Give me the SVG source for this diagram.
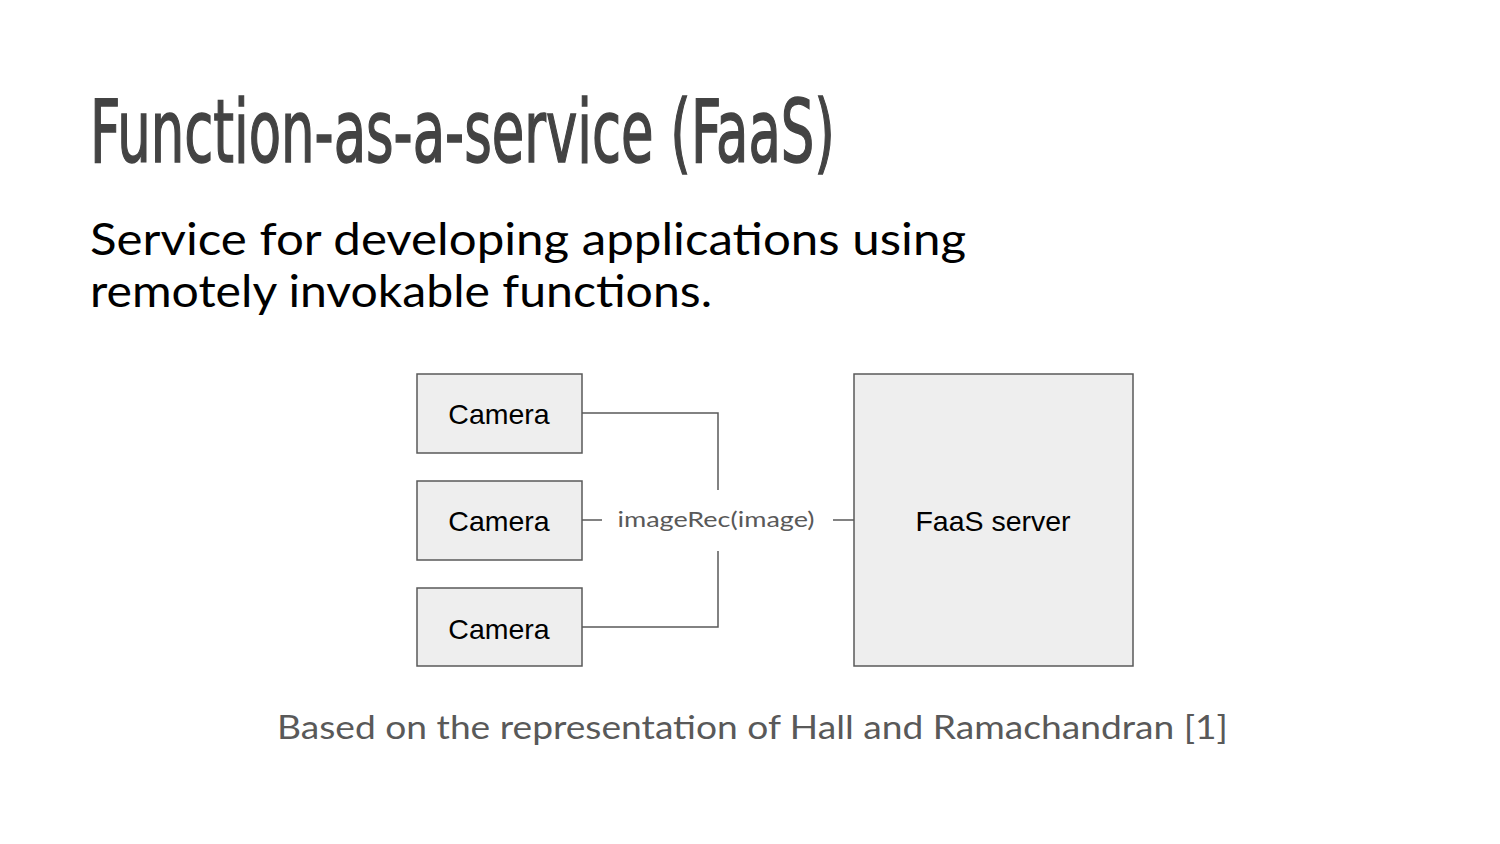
<svg xmlns="http://www.w3.org/2000/svg" width="1500" height="844" viewBox="0 0 1500 844">
<style>
.box{fill:#eeeeee;stroke:#595959;stroke-width:1.5}
.lbl{font-family:"Liberation Sans",Arial,sans-serif;font-size:28.5px;fill:#000;text-anchor:middle}
.conn{fill:none;stroke:#595959;stroke-width:1.5}
</style>
<rect width="1500" height="844" fill="#ffffff"/>
<text x="90" y="162" font-family="'Liberation Sans Narrow','DejaVu Sans Condensed',sans-serif" font-stretch="condensed" font-size="88" fill="#434343" stroke="#434343" stroke-width="1.5" textLength="745" lengthAdjust="spacingAndGlyphs">Function-as-a-service (FaaS)</text>
<text font-family="Lato,'Noto Sans',sans-serif" font-size="44" fill="#000">
<tspan x="90" y="255" textLength="876" lengthAdjust="spacingAndGlyphs">Service for developing applications using</tspan>
<tspan x="90" y="307" textLength="622" lengthAdjust="spacingAndGlyphs">remotely invokable functions.</tspan>
</text>
<g id="connectors">
<path class="conn" d="M582 413 H718 V490"/>
<path class="conn" d="M582 627 H718 V551"/>
<path class="conn" d="M582 520 H602"/>
<path class="conn" d="M833 520 H854"/>
<text x="716" y="527" font-family="Lato,'Noto Sans',sans-serif" font-size="21" fill="#595959" text-anchor="middle" textLength="197" lengthAdjust="spacingAndGlyphs">imageRec(image)</text>
</g>
<g id="camera1"><rect class="box" x="417" y="374" width="165" height="79"/><text class="lbl" x="499" y="424">Camera</text></g>
<g id="camera2"><rect class="box" x="417" y="481" width="165" height="79"/><text class="lbl" x="499" y="531">Camera</text></g>
<g id="camera3"><rect class="box" x="417" y="588" width="165" height="78"/><text class="lbl" x="499" y="639">Camera</text></g>
<g id="faas"><rect class="box" x="854" y="374" width="279" height="292"/><text class="lbl" x="993" y="531">FaaS server</text></g>
<text x="277" y="739" font-family="Lato,'Noto Sans',sans-serif" font-size="32" fill="#595959" textLength="951" lengthAdjust="spacingAndGlyphs">Based on the representation of Hall and Ramachandran [1]</text>
</svg>
